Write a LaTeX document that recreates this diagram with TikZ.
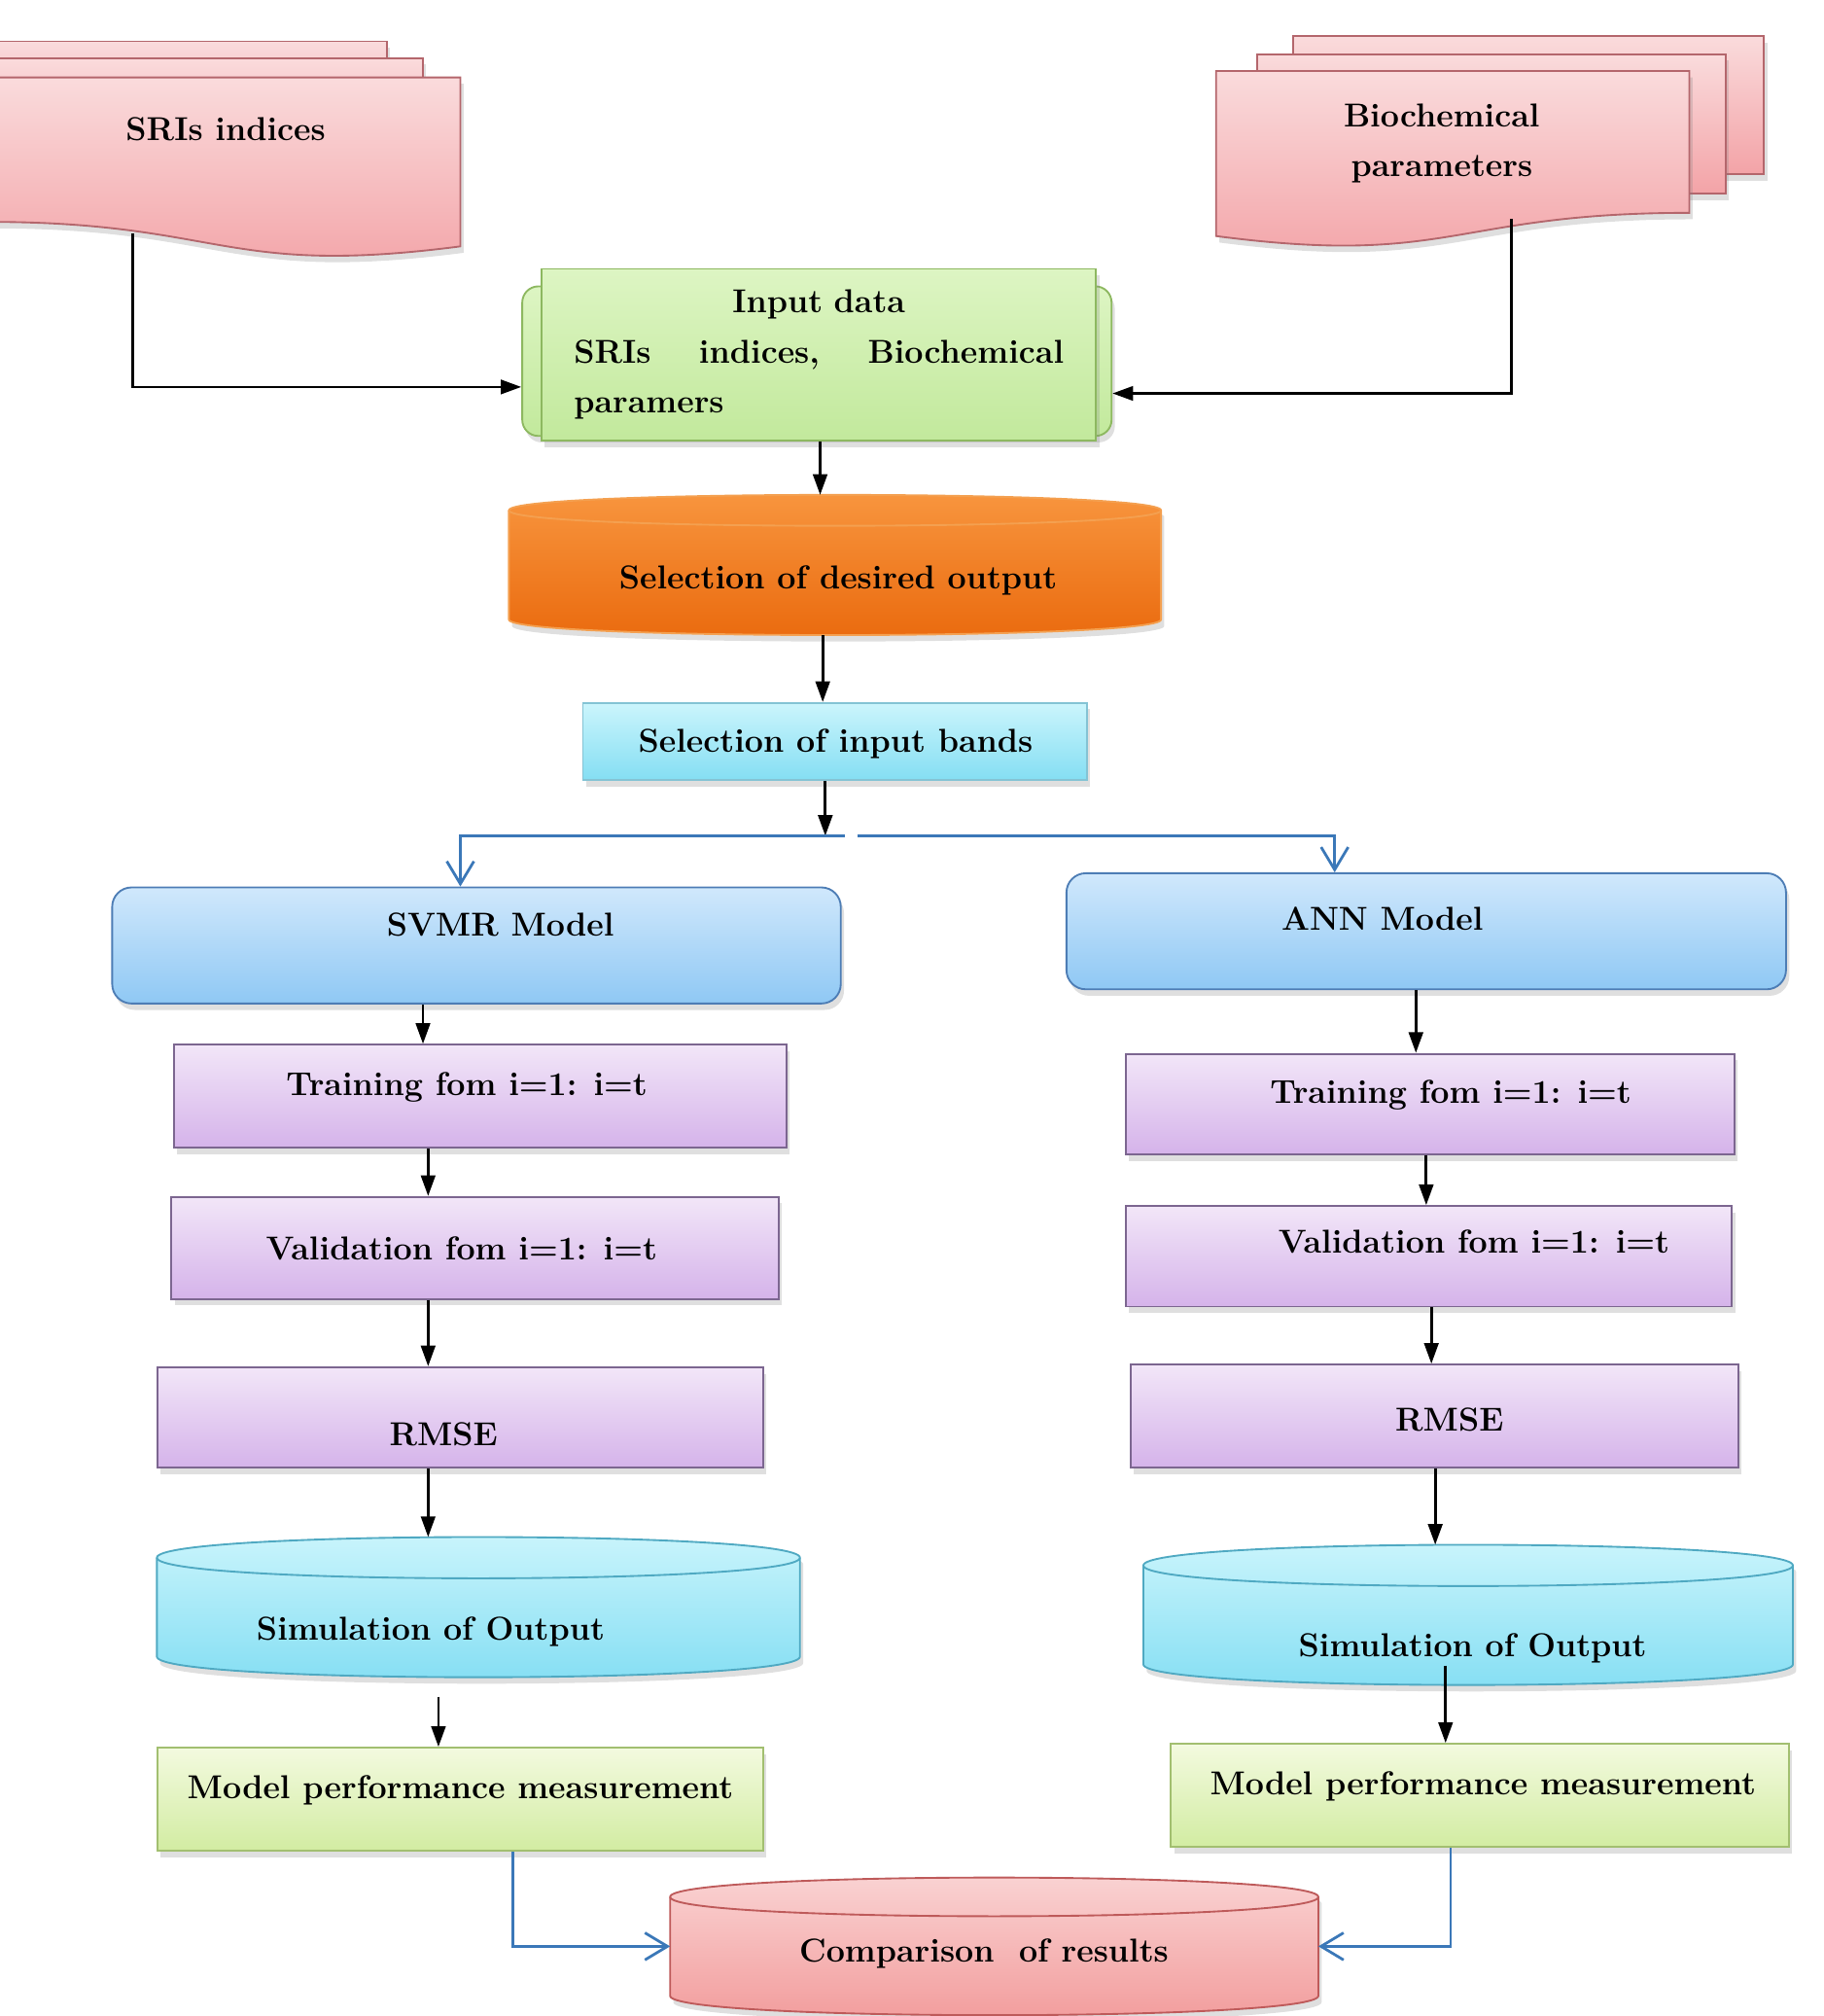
\documentclass[tikz,border=0pt]{standalone}
\usepackage{tikz}
\usetikzlibrary{positioning, shapes.geometric, arrows, arrows.meta, shadows, calc}

\definecolor{pinkT}{HTML}{FADBDC}
\definecolor{pinkB}{HTML}{F3A3A7}
\definecolor{pinkD}{HTML}{B4666C}
\definecolor{greenT}{HTML}{DDF5C3}
\definecolor{greenB}{HTML}{C2E99C}
\definecolor{greenD}{HTML}{8DB860}
\definecolor{orangeT}{HTML}{F8963F}
\definecolor{orangeB}{HTML}{EA6A0E}
\definecolor{orangeD}{HTML}{F4A050}
\definecolor{cyanT}{HTML}{CBF5FC}
\definecolor{cyanB}{HTML}{84DEF3}
\definecolor{cyanD}{HTML}{4FA9C2}
\definecolor{blueT}{HTML}{D0E8FC}
\definecolor{blueB}{HTML}{8FC8F4}
\definecolor{blueD}{HTML}{4D7DB5}
\definecolor{purpT}{HTML}{F2E6F8}
\definecolor{purpB}{HTML}{D5B3EA}
\definecolor{purpD}{HTML}{7C6690}
\definecolor{perfT}{HTML}{F3FADF}
\definecolor{perfB}{HTML}{D2ECA2}
\definecolor{perfD}{HTML}{A2BF70}
\definecolor{compT}{HTML}{FAD4D4}
\definecolor{compB}{HTML}{F29C9C}
\definecolor{compD}{HTML}{BE5A5A}
\definecolor{lineblue}{HTML}{3B78B8}

\tikzset{
  sz/.style 2 args={minimum width=#1*0.02cm, minimum height=#2*0.02cm},
  shd/.style={drop shadow={shadow xshift=0.05cm, shadow yshift=-0.1cm, opacity=0.25}},
  box/.style={rectangle, draw, line width=0.8pt, inner sep=0pt, shd},
  drumbox/.style={rectangle, inner sep=0pt},
  doc/.style={draw=pinkD, line width=0.8pt, top color=pinkT, bottom color=pinkB, shd},
  arr/.style={line width=1.2pt, -{Triangle[length=0.32cm, width=0.22cm]}},
  barr/.style={draw=lineblue, line width=1.2pt, -{Straight Barb[length=0.35cm, width=0.42cm]}},
}

% drum: node, top colour, bottom colour, border, half height of the end ellipse
\newcommand{\drum}[5]{%
  \path[shd, draw=#4, line width=0.8pt, top color=#2, bottom color=#3]
    ($(#1.north west)+(0,#5)$) -- ($(#1.south west)+(0,-#5)$)
    .. controls ($(#1.south west)+(0,#5/3)$) and ($(#1.south east)+(0,#5/3)$) .. ($(#1.south east)+(0,-#5)$)
    -- ($(#1.north east)+(0,#5)$)
    .. controls ($(#1.north east)+(0,-#5/3)$) and ($(#1.north west)+(0,-#5/3)$) .. cycle;
  \draw[draw=#4, line width=0.8pt]
    ($(#1.north west)+(0,#5)$)
    .. controls ($(#1.north west)+(0,7*#5/3)$) and ($(#1.north east)+(0,7*#5/3)$) .. ($(#1.north east)+(0,#5)$);
}

\begin{document}
\begin{tikzpicture}[x=0.02cm, y=-0.02cm, font=\bfseries\fontsize{14.6}{22}\selectfont]
  \useasboundingbox (0,0) rectangle (1414,1563);

  \path[doc] (-20,32) rectangle (300,120);
  \path[doc] (-20,45) rectangle (328,140);
  \path[doc] (-10,60) -- (357,60) -- (357,191) .. controls (173,215) and (173,172) .. (-10,172) -- cycle;
  \path[doc] (1003,28) rectangle (1368,135);
  \path[doc] (975,42) rectangle (1338,150);
  \path[doc] (943,55) -- (1310,55) -- (1310,165) .. controls (1126,165) and (1126,207) .. (943,183) -- cycle;

  \node (sri) at (175,100) {SRIs indices};
  \node[align=center] (bio) at (1118,111) {Biochemical\\parameters};
  \coordinate (sri-b) at (103,181);
  \coordinate (bio-b) at (1172,170);

  \node[box, draw=greenD, top color=greenT, bottom color=greenB, rounded corners=0.25cm, sz={457}{116}] (inp-tab) at (633.5,280) {};
  \node[box, draw=greenD, top color=greenT, bottom color=greenB, sz={430}{133}, text width=7.6cm, align=left] (inp) at (635,275)
    {\makebox[7.6cm]{Input data}\\\makebox[7.6cm][l]{SRIs\hfill indices,\hfill Biochemical}\\paramers};

  \node[drumbox, sz={505}{108}] (des) at (647.5,438) {};
  \drum{des}{orangeT}{orangeB}{orangeD}{12}
  \node (des-t) at (650,450) {Selection of desired output};

  \node[box, draw=cyanD!70, top color=cyanT, bottom color=cyanB, sz={391}{60}] (bands) at (647.5,575) {};
  \node (bands-t) at (648,577) {Selection of input bands};
  \coordinate (split) at (640,648);

  \node[box, draw=blueD, top color=blueT, bottom color=blueB, rounded corners=0.3cm, sz={565}{90}] (svmr) at (369.5,733) {};
  \node (svmr-t) at (388,717) {SVMR Model};
  \node[box, draw=blueD, top color=blueT, bottom color=blueB, rounded corners=0.3cm, sz={558}{90}] (ann) at (1106,722) {};
  \node (ann-t) at (1072,712) {ANN Model};

  \node[box, draw=purpD, top color=purpT, bottom color=purpB, sz={475}{80}] (trainL) at (372.5,850) {};
  \node (trainL-t) at (362,843) {Training fom i=1: i=t};
  \node[box, draw=purpD, top color=purpT, bottom color=purpB, sz={471}{79}] (validL) at (368.5,967.5) {};
  \node (validL-t) at (358,968) {Validation fom i=1: i=t};
  \node[box, draw=purpD, top color=purpT, bottom color=purpB, sz={470}{78}] (rmseL) at (357,1099) {};
  \node (rmseL-t) at (344,1112) {RMSE};
  \node[drumbox, sz={498}{108}] (simL) at (371,1246) {};
  \drum{simL}{cyanT}{cyanB}{cyanD}{16}
  \node (simL-t) at (334,1265) {Simulation of Output};
  \node[box, draw=perfD, top color=perfT, bottom color=perfB, sz={470}{80}] (perfL) at (357,1395) {};
  \node (perfL-t) at (357,1388) {Model performance measurement};

  \node[box, draw=purpD, top color=purpT, bottom color=purpB, sz={472}{78}] (trainR) at (1109,856) {};
  \node (trainR-t) at (1125,849) {Training fom i=1: i=t};
  \node[box, draw=purpD, top color=purpT, bottom color=purpB, sz={470}{78}] (validR) at (1108,974) {};
  \node (validR-t) at (1143,963) {Validation fom i=1: i=t};
  \node[box, draw=purpD, top color=purpT, bottom color=purpB, sz={471}{80}] (rmseR) at (1112.5,1098) {};
  \node (rmseR-t) at (1124,1101) {RMSE};
  \node[drumbox, sz={503}{108}] (simR) at (1138.5,1252) {};
  \drum{simR}{cyanT}{cyanB}{cyanD}{16}
  \node (simR-t) at (1142,1278) {Simulation of Output};
  \node[box, draw=perfD, top color=perfT, bottom color=perfB, sz={479}{80}] (perfR) at (1147.5,1392) {};
  \node (perfR-t) at (1150,1385) {Model performance measurement};

  \node[drumbox, sz={502}{106}] (comp) at (771,1509) {};
  \drum{comp}{compT}{compB}{compD}{15}
  \node (comp-t) at (763,1515) {Comparison\ \ of results};

  \draw[arr] (sri-b) |- ($(inp-tab.west)+(0,20)$);
  \draw[arr] (bio-b) |- ($(inp-tab.east)+(0,25)$);
  \draw[arr] (inp.south -| 636,0) -- (des.north -| 636,0);
  \draw[arr] (des.south -| 638,0) -- (bands.north -| 638,0);
  \draw[arr] (bands.south -| 640,0) -- (split);
  \draw[barr] ($(split)+(15,0)$) -| (svmr.north -| 357,0);
  \draw[barr] ($(split)+(25,0)$) -| (ann.north -| 1035,0);

  \draw[arr] (svmr.south -| 328,0) -- (trainL.north -| 328,0);
  \draw[arr] (trainL.south -| 332,0) -- (validL.north -| 332,0);
  \draw[arr] (validL.south -| 332,0) -- (rmseL.north -| 332,0);
  \draw[arr] (rmseL.south -| 332,0) -- (simL.north -| 332,0);
  \draw[arr, shorten <=0.3cm] (simL.south -| 340,0) -- (perfL.north -| 340,0);

  \draw[arr] (ann.south -| 1098,0) -- (trainR.north -| 1098,0);
  \draw[arr] (trainR.south -| 1106,0) -- (validR.north -| 1106,0);
  \draw[arr] (validR.south -| 1110,0) -- (rmseR.north -| 1110,0);
  \draw[arr] (rmseR.south -| 1113,0) -- (simR.north -| 1113,0);
  \draw[arr, shorten <=-0.3cm] (simR.south -| 1121,0) -- (perfR.north -| 1121,0);

  \draw[barr] (perfL.south -| 398,0) |- (comp.west);
  \draw[barr] (perfR.south -| 1125,0) |- (comp.east);
\end{tikzpicture}
\end{document}
